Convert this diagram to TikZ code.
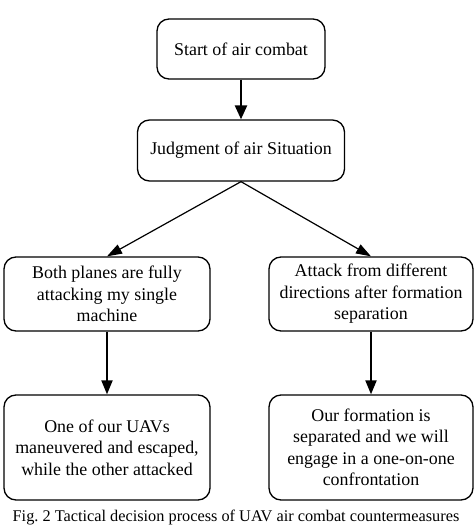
\documentclass[tikz,border=0pt]{standalone}
\usepackage{fontspec}
\setmainfont{Liberation Serif}
\usetikzlibrary{arrows.meta}
\tikzset{
  box/.style={draw, line width=1.3pt, rounded corners=12pt, align=center, inner sep=0pt,
    font=\fontsize{17.9}{21.5}\selectfont},
  thick arrow/.style={line width=2.5pt, -{Triangle[length=14pt,width=12pt]}},
  mid arrow/.style={line width=2pt, -{Triangle[length=14pt,width=11pt]}},
  thin arrow/.style={line width=1.2pt, -{Triangle[length=15pt,width=10pt]}},
}
\begin{document}
\begin{tikzpicture}[x=1pt,y=-1pt]
\useasboundingbox (0,0) rectangle (474,526);
\node[box, minimum width=168pt, minimum height=60pt] (b1) at (241,49) {Start of air combat};
\node[box, minimum width=207pt, minimum height=61pt] (b2) at (241,150.5) {Judgment of air Situation};
\node[box, minimum width=206pt, minimum height=74pt] (b3) at (107,294) {Both planes are fully\\attacking my single\\machine};
\node[box, minimum width=204pt, minimum height=74pt] (b4) at (371,294) {Attack from different\\directions after formation\\separation};
\node[box, minimum width=206pt, minimum height=105pt] (b5) at (107,447.5) {One of our UAVs\\maneuvered and escaped,\\while the other attacked};
\node[box, minimum width=204pt, minimum height=105pt] (b6) at (371,447.5) {Our formation is\\separated and we will\\engage in a one-on-one\\confrontation};
\draw[thick arrow] (b1.south) -- (b2.north);
\draw[thin arrow] (b2.south) -- (b3.north);
\draw[thin arrow] (b2.south) -- (b4.north);
\draw[mid arrow] (b3.south) -- (b5.north);
\draw[mid arrow] (b4.south) -- (b6.north);
\node[anchor=base, inner sep=0pt, font=\fontsize{16.3}{19}\selectfont] (cap) at (236,521.5) {Fig.\ 2 Tactical decision process of UAV air combat countermeasures};
\end{tikzpicture}
\end{document}
